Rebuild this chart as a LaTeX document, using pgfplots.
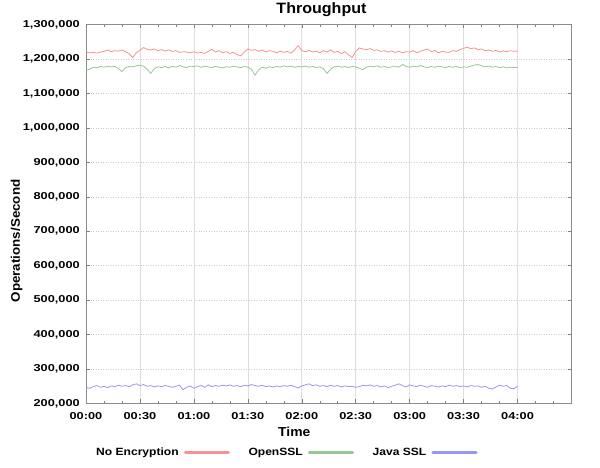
\documentclass[border=0pt]{standalone}
\usepackage{fontspec}
\setmainfont{Liberation Sans}
\newfontfamily\tickf[FakeStretch=1.28]{Liberation Sans}
\newfontfamily\legf[FakeStretch=1.15]{Liberation Sans}
\newfontfamily\labf[FakeStretch=1.07]{Liberation Sans}
\usepackage{pgfplots}
\usepackage{pgfplotstable}
\pgfplotsset{compat=1.18}
\definecolor{cred}{RGB}{250,145,145}
\definecolor{cgreen}{RGB}{150,200,150}
\definecolor{cblue}{RGB}{150,150,250}
\pgfplotstableread{
t a b c
0 1220000 1167000 247000
2 1218000 1170000 244000
4 1219000 1176000 249000
6 1217000 1174000 252000
8 1220000 1178000 247000
10 1222000 1176000 250000
12 1226000 1179000 246000
14 1221000 1177000 251000
16 1224000 1178000 249000
18 1223000 1173000 253000
20 1226000 1163000 250000
22 1221000 1175000 252000
24 1215000 1178000 249000
26 1204000 1177000 254000
28 1218000 1180000 257000
30 1225000 1182000 252000
32 1233000 1179000 255000
34 1228000 1170000 250000
36 1226000 1158000 252000
38 1229000 1172000 248000
40 1224000 1177000 251000
42 1227000 1175000 249000
44 1223000 1178000 252000
46 1226000 1174000 250000
48 1222000 1179000 247000
50 1224000 1176000 250000
52 1219000 1181000 253000
54 1221000 1177000 240000
56 1220000 1175000 247000
58 1218000 1179000 251000
60 1221000 1178000 244000
62 1217000 1180000 249000
64 1219000 1176000 252000
66 1216000 1179000 247000
68 1222000 1177000 254000
70 1228000 1175000 249000
72 1220000 1178000 252000
74 1224000 1176000 250000
76 1218000 1174000 253000
78 1221000 1177000 251000
80 1216000 1176000 254000
82 1219000 1179000 250000
84 1213000 1177000 252000
86 1209000 1175000 249000
88 1220000 1178000 253000
90 1229000 1176000 251000
92 1225000 1170000 255000
94 1227000 1153000 252000
96 1222000 1168000 250000
98 1226000 1176000 253000
100 1220000 1173000 249000
102 1224000 1177000 251000
104 1222000 1175000 248000
106 1218000 1178000 251000
108 1223000 1176000 249000
110 1219000 1180000 252000
112 1222000 1177000 250000
114 1217000 1179000 253000
116 1226000 1176000 249000
118 1239000 1178000 245000
120 1224000 1177000 251000
122 1221000 1179000 254000
124 1225000 1176000 257000
126 1220000 1178000 252000
128 1223000 1175000 254000
130 1218000 1177000 250000
132 1224000 1172000 252000
134 1220000 1158000 249000
136 1226000 1170000 253000
138 1219000 1177000 250000
140 1222000 1179000 252000
142 1215000 1176000 248000
144 1221000 1178000 251000
146 1212000 1175000 249000
148 1204000 1178000 250000
150 1222000 1177000 247000
152 1232000 1173000 249000
154 1229000 1169000 253000
156 1227000 1176000 251000
158 1230000 1179000 254000
160 1225000 1177000 250000
162 1226000 1180000 252000
164 1222000 1176000 248000
166 1224000 1178000 251000
168 1220000 1175000 246000
170 1223000 1177000 250000
172 1219000 1179000 253000
174 1222000 1176000 257000
176 1218000 1184000 252000
178 1221000 1178000 248000
180 1220000 1176000 254000
182 1224000 1179000 251000
184 1218000 1177000 249000
186 1222000 1181000 253000
188 1226000 1177000 250000
190 1229000 1175000 247000
192 1221000 1178000 252000
194 1225000 1176000 250000
196 1218000 1179000 248000
198 1222000 1177000 251000
200 1220000 1175000 249000
202 1219000 1178000 253000
204 1224000 1176000 250000
206 1222000 1178000 252000
208 1227000 1175000 249000
210 1231000 1177000 251000
212 1234000 1176000 248000
214 1230000 1179000 252000
216 1232000 1182000 250000
218 1227000 1184000 251000
220 1229000 1180000 247000
222 1224000 1177000 250000
224 1226000 1179000 244000
226 1222000 1176000 242000
228 1225000 1178000 248000
230 1220000 1175000 253000
232 1223000 1177000 250000
234 1221000 1174000 252000
236 1224000 1176000 244000
238 1222000 1175000 243000
240 1223000 1175000 250000
}\datatable
\begin{document}
\begin{tikzpicture}
\path[use as bounding box] (-86pt,-64.5pt) rectangle (514pt,403.5pt);
\begin{axis}[
  at={(0pt,0pt)}, anchor=south west,
  scale only axis,
  width=485.5pt, height=379pt,
  xmin=0, xmax=270,
  ymin=200000, ymax=1300000,
  xtick={0,30,60,90,120,150,180,210,240},
  xticklabels={00:00,00:30,01:00,01:30,02:00,02:30,03:00,03:30,04:00},
  minor xtick={0,10,20,30,40,50,60,70,80,90,100,110,120,130,140,150,160,170,180,190,200,210,220,230,240,250,260,270},
  ytick={200000,300000,400000,500000,600000,700000,800000,900000,1000000,1100000,1200000,1300000},
  scaled y ticks=false,
  /pgf/number format/.cd, fixed, 1000 sep={,}, assume math mode=true,
  /pgfplots/.cd,
  tick align=inside,
  major tick length=4pt, minor tick length=2.5pt,
  every tick/.style={black!50, line width=0.5pt},
  axis line style={black!45, line width=0.7pt},
  grid=major,
  x grid style={black!13, line width=0.6pt},
  y grid style={black!20, line width=0.5pt, dotted},
  tick label style={font=\tickf\bfseries\fontsize{10}{12}\selectfont, text=black},
  xticklabel style={anchor=base, inner sep=0pt, yshift=-16.5pt},
  yticklabel style={anchor=east, inner sep=0pt, xshift=-6pt},
  title={Throughput},
  title style={font=\labf\bfseries\fontsize{15}{18}\selectfont, at={(axis description cs:0.485,1)}, anchor=base, inner sep=0pt, yshift=4.5pt},
  xlabel={Time},
  xlabel style={font=\labf\bfseries\fontsize{13}{15}\selectfont, at={(axis description cs:0.429,0)}, anchor=base, inner sep=0pt, yshift=-33.5pt},
  ylabel={Operations/Second},
  ylabel style={font=\labf\bfseries\fontsize{12.5}{15}\selectfont, at={(axis description cs:0,0.429)}, rotate=0, anchor=base, inner sep=0pt, yshift=66pt},
  legend plot pos=right,
  legend columns=3,
  legend image code/.code={\draw[#1, line width=3.3pt, line cap=round] (0pt,0pt) -- (43pt,0pt);},
  legend style={at={(axis description cs:0,0)}, anchor=west, xshift=8pt, yshift=-49pt,
    draw=none, fill=none, inner sep=0pt,
    font=\legf\bfseries\fontsize{10.5}{12}\selectfont,
    /tikz/every even column/.append style={column sep=16.5pt},
    /tikz/every odd column/.append style={column sep=3pt}},
]
\addplot[cred, line width=0.8pt] table[x=t, y=a] {\datatable};
\addlegendentry{No Encryption}
\addplot[cgreen, line width=0.8pt] table[x=t, y=b] {\datatable};
\addlegendentry{OpenSSL}
\addplot[cblue, line width=0.8pt] table[x=t, y=c] {\datatable};
\addlegendentry{Java SSL}
\end{axis}
\end{tikzpicture}
\end{document}
